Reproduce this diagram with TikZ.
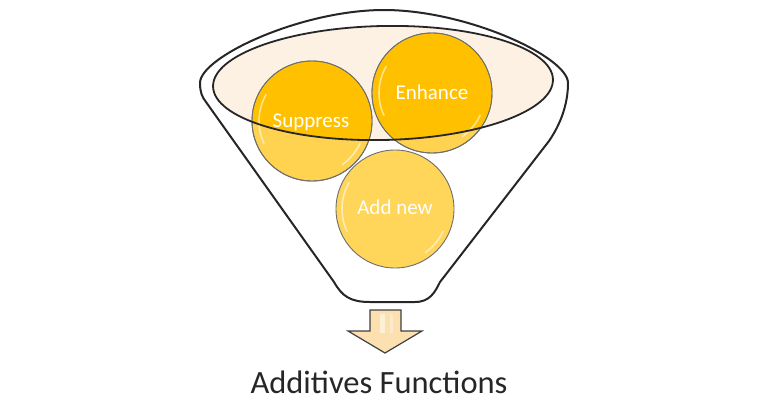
\documentclass[tikz,border=0pt]{standalone}
\usepackage{fontspec}
\setmainfont{Carlito}
\definecolor{goldlight}{HTML}{FFD24F}
\definecolor{golddark}{HTML}{FFC000}
\definecolor{addnew}{HTML}{FFD55A}
\definecolor{bubbleline}{HTML}{6E6E6E}
\definecolor{peach}{HTML}{FDF1E3}
\definecolor{arrowfill}{HTML}{FDE0B0}
\definecolor{arrowline}{HTML}{404040}
\begin{document}
\begin{tikzpicture}[x=1pt,y=-1pt,
  bubble/.style={circle, draw=bubbleline, line width=0.9pt, minimum size=#1, inner sep=0pt},
  blabel/.style={anchor=base, text=white, font=\fontsize{21}{22}\selectfont, inner sep=0pt},
  hl/.style={white, opacity=0.55, line width=1.6pt, line cap=round},
  funnelline/.style={draw=black!85, line width=2pt, line join=round}
]
\useasboundingbox (0,0) rectangle (768,402);
% outer funnel
\draw[funnelline] (200,83) .. controls (200,92) and (202,97) .. (206,102)
  -- (334,282) .. controls (342,296) and (350,302) .. (370,302)
  -- (415,302) .. controls (430,302) and (435,292) .. (440,282)
  -- (549,141) .. controls (560,125) and (568,105) .. (568,83)
  .. controls (568,57) and (467,10) .. (384,10)
  .. controls (301,10) and (200,57) .. (200,83) -- cycle;
% inner ellipse fill
\fill[peach, rotate around={1.2:(383,83)}] (383,83) ellipse [x radius=170, y radius=57];
% bubbles
\node[bubble=120pt, fill=goldlight] (sup) at (312,121) {};
\node[bubble=120pt, fill=goldlight] (enh) at (432,93) {};
\node[bubble=118pt, fill=addnew] (add) at (395,209) {};
\begin{scope}
  \clip[rotate around={1.2:(383,83)}] (383,83) ellipse [x radius=170, y radius=57];
  \fill[golddark] (sup.center) circle [radius=59.5pt];
  \fill[golddark] (enh.center) circle [radius=59.5pt];
\end{scope}
\draw[bubbleline, line width=0.9pt] (sup.center) circle [radius=60pt];
\draw[bubbleline, line width=0.9pt] (enh.center) circle [radius=60pt];
% highlights
\foreach \c in {sup,enh,add}{
  \begin{scope}[shift={(\c.center)}, yscale=-1]
    \draw[hl] (150:53) arc[start angle=150, end angle=205, radius=53];
    \draw[hl] (-25:53) arc[start angle=-25, end angle=-55, radius=53];
  \end{scope}
}
% ellipse outline on top
\draw[line width=1.8pt, draw=black!85, rotate around={1.2:(383,83)}] (383,83) ellipse [x radius=170, y radius=57];
% labels
\node[blabel] (tsup) at (311,127) {Suppress};
\node[blabel] (tenh) at (432,99) {Enhance};
\node[blabel] (tadd) at (395,214) {Add new};
% arrow
\draw[draw=arrowline, line width=1.2pt, line join=miter, fill=arrowfill]
  (370,310) -- (401,310) -- (401,331) -- (422,331) -- (385,353) -- (348,331) -- (370,331) -- cycle;
\fill[white, opacity=0.5] (380,314) rectangle (385,333);
\fill[white, opacity=0.35] (390,314) rectangle (393,333);
% title
\node[anchor=base, inner sep=0pt, font=\fontsize{32.5}{34}\selectfont, text=black!85] (title) at (379,393) {Additives Functions};
\end{tikzpicture}
\end{document}
